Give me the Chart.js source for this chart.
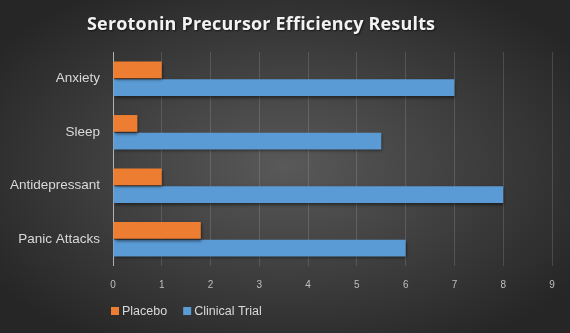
<!DOCTYPE html>
<html><head><meta charset="utf-8">
<script src="https://cdn.jsdelivr.net/npm/chart.js@4.4.0/dist/chart.umd.min.js"></script>
<style>html,body{margin:0;padding:0;background:#333;}#wrap{width:570px;height:333px;}</style>
</head><body><div id="wrap"><canvas id="c" width="570" height="333"></canvas></div>
<script>
const categories = ["Anxiety", "Sleep", "Antidepressant", "Panic Attacks"];
const placebo = [1, 0.5, 1, 1.8];
const clinicalTrial = [7, 5.5, 8, 6];
const seriesNames = ["Placebo", "Clinical Trial"];
const xTicks = [0,1,2,3,4,5,6,7,8,9];
const titleText = "Serotonin Precursor Efficiency Results";

const bgPlugin = {
  id: 'bg',
  beforeDraw(chart) {
    const ctx = chart.ctx, w = chart.width, h = chart.height;
    ctx.save();
    ctx.translate(w/2, h/2);
    ctx.scale(1, h/w);
    const g = ctx.createRadialGradient(0, 0, 0, 0, 0, w*0.62);
    g.addColorStop(0, '#595959');
    g.addColorStop(1, '#262626');
    ctx.fillStyle = g;
    ctx.fillRect(-w, -w, 2*w, 2*w);
    ctx.restore();
  }
};
const shadowPlugin = {
  id: 'shadow',
  beforeDatasetsDraw(chart) {
    const ctx = chart.ctx;
    ctx.save();
    ctx.shadowColor = 'rgba(0,0,0,0.55)';
    ctx.shadowOffsetX = 1;
    ctx.shadowOffsetY = 2;
    ctx.shadowBlur = 3;
  },
  afterDatasetsDraw(chart) { chart.ctx.restore(); }
};
const textPlugin = {
  id: 'texts',
  afterDraw(chart) {
    const ctx = chart.ctx;
    ctx.save();
    ctx.font = 'bold 18px "Open Sans"';
    ctx.fillStyle = '#f2f2f2';
    ctx.textBaseline = 'alphabetic';
    ctx.textAlign = 'left';
    ctx.letterSpacing = '0px';
    const w0 = ctx.measureText(titleText).width;
    const target = 348;
    const ls = (target - w0) / (titleText.length - 1);
    ctx.letterSpacing = ls.toFixed(2) + 'px';
    ctx.shadowColor = 'rgba(0,0,0,0.6)';
    ctx.shadowOffsetX = 1; ctx.shadowOffsetY = 1; ctx.shadowBlur = 2;
    ctx.fillText(titleText, 87, 30);
    ctx.shadowColor = 'transparent';
    ctx.letterSpacing = '0px';
    ctx.font = '12.5px "Liberation Sans"';
    ctx.textBaseline = 'middle';
    let x = 111;
    const y = 311;
    chart.data.datasets.forEach((ds) => {
      ctx.fillStyle = ds.backgroundColor;
      ctx.fillRect(x, y - 4, 8, 8);
      ctx.fillStyle = '#d9d9d9';
      ctx.fillText(ds.label, x + 11, y + 0.5);
      x += 11 + ctx.measureText(ds.label).width + 16;
    });
    ctx.restore();
  }
};

new Chart(document.getElementById('c'), {
  type: 'bar',
  data: {
    labels: categories,
    datasets: [
      { label: seriesNames[0], data: placebo, backgroundColor: '#ED7D31',
        categoryPercentage: 0.66, barPercentage: 0.95 },
      { label: seriesNames[1], data: clinicalTrial, backgroundColor: '#5B9BD5',
        categoryPercentage: 0.66, barPercentage: 0.95 }
    ]
  },
  options: {
    indexAxis: 'y',
    responsive: false,
    animation: false,
    layout: { padding: { top: 52, bottom: 29, right: 18, left: 0 } },
    plugins: {
      legend: { display: false },
      title: { display: false },
      tooltip: { enabled: false }
    },
    scales: {
      x: {
        min: 0, max: 9,
        afterBuildTicks(scale) { scale.ticks = xTicks.map(v => ({ value: v })); },
        grid: {
          color: (c) => c.tick && c.tick.value === 0 ? 'rgba(217,217,217,0.75)' : 'rgba(217,217,217,0.17)',
          drawTicks: false,
          lineWidth: 1
        },
        border: { display: false },
        ticks: { color: '#bfbfbf', font: { family: 'Liberation Sans', size: 10 }, padding: 13 }
      },
      y: {
        grid: { display: false, drawTicks: false },
        border: { display: false },
        ticks: { color: '#d9d9d9', font: { family: 'Liberation Sans', size: 13.5 }, padding: 13 },
        afterFit(scale) { scale.width = 113; }
      }
    }
  },
  plugins: [bgPlugin, shadowPlugin, textPlugin]
});
</script>
</body></html>
